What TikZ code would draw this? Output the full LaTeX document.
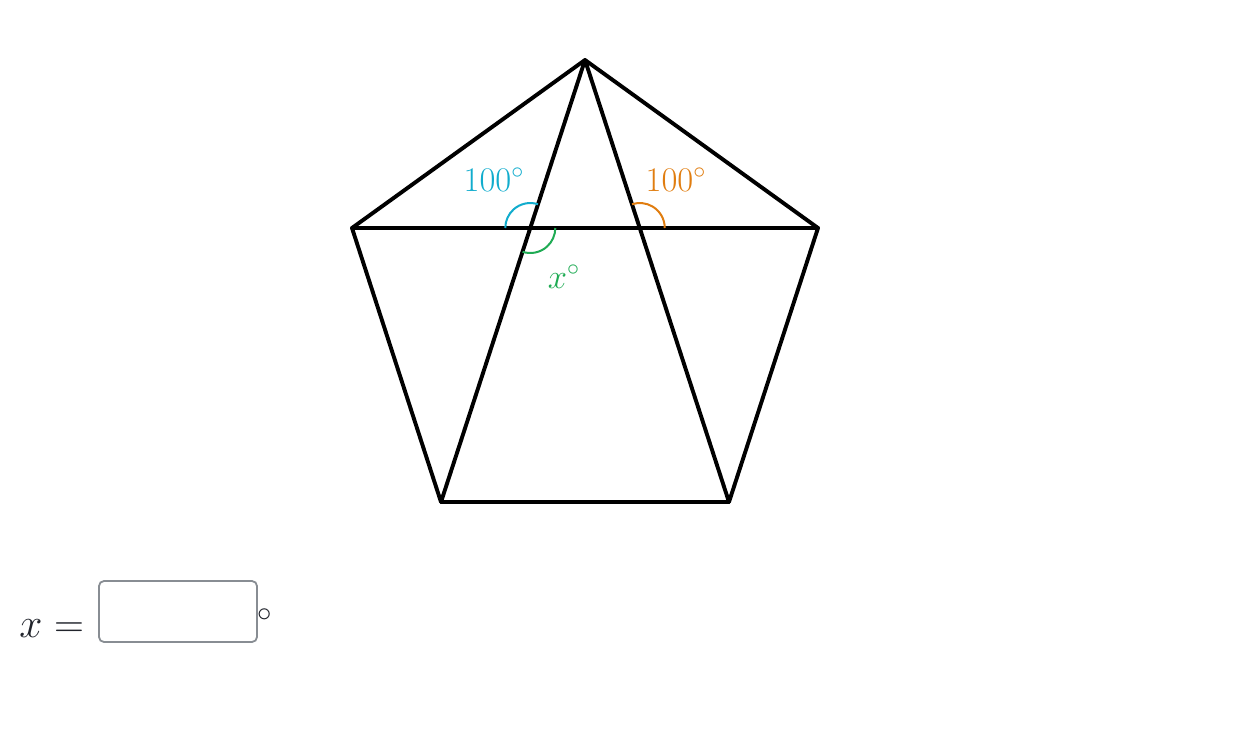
\documentclass[tikz,border=0pt]{standalone}
\usepackage{xcolor}
\usepackage{tikz}
\usetikzlibrary{positioning}

\definecolor{angblue}{HTML}{11ACCD}
\definecolor{angorange}{HTML}{E07D10}
\definecolor{anggreen}{HTML}{1FAB54}
\definecolor{inkgray}{HTML}{21242C}
\definecolor{boxgray}{HTML}{888D93}

\tikzset{
	edgeline/.style={line width=1.95pt, line join=round, line cap=round},
	angarc/.style={line width=1pt},
	anglabel/.style={anchor=base, font=\fontsize{17}{20}\selectfont},
	answerbox/.style={draw=boxgray, line width=0.9pt, rounded corners=2.5pt,
		minimum width=79pt, minimum height=30.5pt}
}

\begin{document}
\begin{tikzpicture}[x=0.5pt, y=0.5pt]
	\useasboundingbox (0,0) rectangle (1248,-730);
	
	\coordinate (A) at (585,-60);
	\coordinate (B) at (352,-228);
	\coordinate (C) at (441,-502);
	\coordinate (D) at (729,-502);
	\coordinate (E) at (818,-228);
	
	\draw[edgeline] (A) -- (B) -- (C) -- (D) -- (E) -- cycle;
	\draw[edgeline] (B) -- (E);
	\draw[edgeline] (A) -- (C);
	\draw[edgeline] (A) -- (D);
	
	\coordinate (P) at (intersection of A--C and B--E);
	\coordinate (Q) at (intersection of A--D and B--E);
	
	% angle marks
	\draw[angarc, angblue] ([shift={(72:12.5pt)}]P) arc[start angle=72, end angle=180, radius=12.5pt];
	\draw[angarc, anggreen] ([shift={(252:12.5pt)}]P) arc[start angle=252, end angle=360, radius=12.5pt];
	\draw[angarc, angorange] ([shift={(0:12.5pt)}]Q) arc[start angle=0, end angle=108, radius=12.5pt];
	
	\node[anglabel, text=angblue] (a1) at (494,-191) {$100^\circ$};
	\node[anglabel, text=angorange] (a2) at (676,-191) {$100^\circ$};
	\node[anglabel, text=anggreen] (ax) at (564,-288) {$x^\circ$};
	
	% answer line
	\node[answerbox] (box) at (178,-611.5) {};
	\node[anchor=base east, text=inkgray, font=\fontsize{21}{25}\selectfont] (lhs) at (91,-637) {$x=$};
	\node[anchor=base west, inner sep=0pt, text=inkgray, font=\fontsize{20}{24}\selectfont] (deg) at (257,-637) {$^\circ$};
\end{tikzpicture}
\end{document}
